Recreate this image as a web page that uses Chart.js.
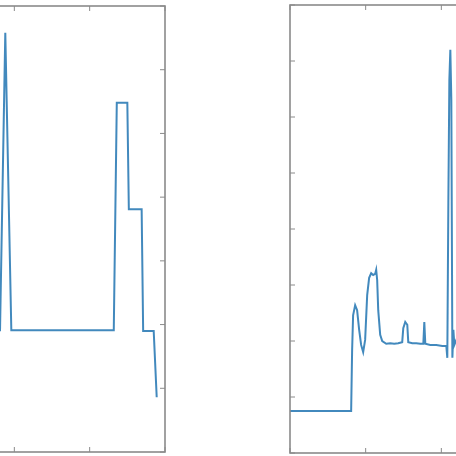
<!DOCTYPE html>
<html>
<head>
<meta charset="utf-8">
<script src="https://cdn.jsdelivr.net/npm/chart.js@4/dist/chart.umd.min.js"></script>
<style>
    html, body { margin: 0; padding: 0; background: #fff; overflow: hidden; width: 456px; height: 456px; }
    canvas { position: absolute; }
    #leftChart { left: -63px; top: 4px; }
    #rightChart { left: 288px; top: 3px; }
</style>
</head>
<body>
<canvas id="leftChart" width="230" height="450"></canvas>
<canvas id="rightChart" width="231" height="452"></canvas>
<script>
// Left panel: sample position and signal level (arbitrary units)
const leftX = [75, 81, 88, 96, 232, 236, 250, 252, 269, 271, 285, 289];
const leftY = [19.1, 19.1, 65.8, 19.1, 19.1, 54.8, 54.8, 38.1, 38.1, 19.0, 19.0, 8.6];

// Right panel
const rightX = [0, 80.8, 82.1, 83.4, 86.1, 88.7, 91.4, 94.0, 96.7, 99.3, 102.0, 104.6, 107.3, 109.9,
    112.6, 113.9, 115.2, 116.6, 119.2, 121.9, 127.2, 132.5, 137.7, 143.0, 148.3, 149.7, 152.3,
    155.0, 156.3, 161.6, 166.9, 172.2, 176.2, 177.5, 178.8, 185.4, 193.4, 201.3, 206.6, 207.9,
    209.3, 210.6, 211.9, 213.2, 214.6, 215.9, 217.2, 219.9, 225, 240];
const rightY = [7.5, 7.5, 18.4, 24.6, 26.4, 25.5, 22.0, 19.3, 18.0, 20.2, 28.2, 31.3, 32.1, 31.8,
    32.0, 32.7, 30.9, 25.5, 21.1, 20.0, 19.5, 19.6, 19.5, 19.6, 19.8, 22.3, 23.4,
    22.9, 19.8, 19.6, 19.6, 19.5, 19.5, 23.4, 19.5, 19.3, 19.3, 19.1, 19.1, 17.0,
    45.2, 66.6, 72.0, 63.0, 17.0, 22.0, 19.3, 20.2, 19.5, 19.5];

const lineColor = 'rgba(46, 124, 182, 0.9)';
const boxColor = '#8a8a8a';

function toPoints(xs, ys) {
    return xs.map(function (x, i) { return { x: x, y: ys[i] }; });
}

// Draws the MATLAB-style box with inward ticks on all four sides
const boxTicks = {
    id: 'boxTicks',
    afterDraw: function (chart) {
        const ctx = chart.ctx;
        const a = chart.chartArea;
        const xs = chart.scales.x;
        const ys = chart.scales.y;
        const len = 5;
        ctx.save();
        ctx.strokeStyle = boxColor;
        ctx.lineWidth = 1;
        xs.ticks.forEach(function (t) {
            const px = xs.getPixelForValue(t.value);
            ctx.beginPath();
            ctx.moveTo(px, a.top); ctx.lineTo(px, a.top + len);
            ctx.moveTo(px, a.bottom); ctx.lineTo(px, a.bottom - len);
            ctx.stroke();
        });
        ys.ticks.forEach(function (t) {
            const py = ys.getPixelForValue(t.value);
            ctx.beginPath();
            ctx.moveTo(a.left, py); ctx.lineTo(a.left + len, py);
            ctx.moveTo(a.right, py); ctx.lineTo(a.right - len, py);
            ctx.stroke();
        });
        ctx.lineWidth = 1.6;
        ctx.strokeRect(a.left, a.top, a.right - a.left, a.bottom - a.top);
        ctx.restore();
    }
};

function makeChart(id, xs, ys, yMax) {
    return new Chart(document.getElementById(id), {
        type: 'line',
        data: {
            datasets: [{
                data: toPoints(xs, ys),
                borderColor: lineColor,
                borderWidth: 2,
                pointRadius: 0,
                tension: 0
            }]
        },
        options: {
            responsive: false,
            animation: false,
            devicePixelRatio: 1,
            layout: { padding: 2 },
            scales: {
                x: { type: 'linear', display: false, min: 0, max: 300, ticks: { stepSize: 100 } },
                y: { display: false, min: 0, max: yMax, ticks: { stepSize: 10 } }
            },
            plugins: {
                legend: { display: false },
                tooltip: { enabled: false }
            }
        },
        plugins: [boxTicks]
    });
}

makeChart('leftChart', leftX, leftY, 70);
makeChart('rightChart', rightX, rightY, 80);
</script>
</body>
</html>
